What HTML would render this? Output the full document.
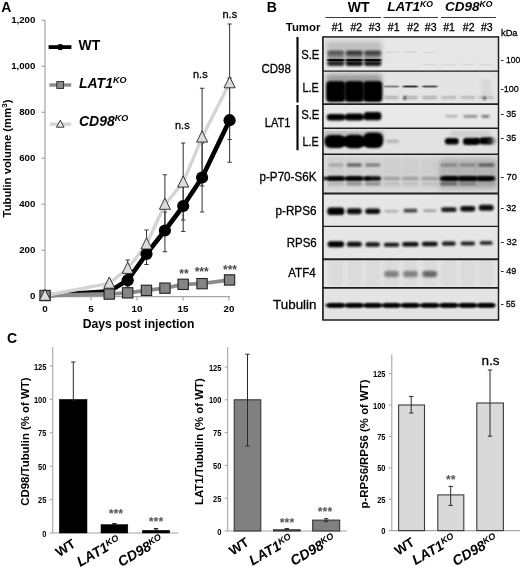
<!DOCTYPE html>
<html lang="en"><head><meta charset="utf-8"><title>Figure</title>
<style>html,body{margin:0;padding:0;background:#fff;}svg{display:block;}text{font-family:"Liberation Sans", sans-serif;}</style>
</head><body>
<svg width="520" height="567" viewBox="0 0 520 567">
<defs>
<filter id="b1" x="-20%" y="-50%" width="140%" height="200%"><feGaussianBlur stdDeviation="1.1 0.9"/></filter>
<filter id="b2" x="-20%" y="-50%" width="140%" height="200%"><feGaussianBlur stdDeviation="1.6 1.2"/></filter>
<filter id="b0" x="-20%" y="-80%" width="140%" height="260%"><feGaussianBlur stdDeviation="0.9 0.6"/></filter>
<filter id="b3" x="-20%" y="-50%" width="140%" height="200%"><feGaussianBlur stdDeviation="2.5 2"/></filter>
</defs>
<rect x="0" y="0" width="520" height="567" fill="#ffffff"/>
<text x="1.20" y="12.30" font-size="14" font-weight="bold" font-style="normal" text-anchor="start" fill="#000" >A</text>
<text x="266.80" y="12.00" font-size="14" font-weight="bold" font-style="normal" text-anchor="start" fill="#000" >B</text>
<text x="7.00" y="343.20" font-size="14" font-weight="bold" font-style="normal" text-anchor="start" fill="#000" >C</text>
<g stroke="#a6a6a6" stroke-width="1.2" fill="none">
<path d="M45.0 20 V296.7 H230"/>
<path d="M45.0 296.3 h-3.5"/>
<path d="M45.0 250.3 h-3.5"/>
<path d="M45.0 204.3 h-3.5"/>
<path d="M45.0 158.3 h-3.5"/>
<path d="M45.0 112.3 h-3.5"/>
<path d="M45.0 66.3 h-3.5"/>
<path d="M45.0 20.3 h-3.5"/>
<path d="M45.0 297.0 v3.5"/>
<path d="M91.0 297.0 v3.5"/>
<path d="M137.0 297.0 v3.5"/>
<path d="M183.0 297.0 v3.5"/>
<path d="M229.0 297.0 v3.5"/>
</g>
<text x="35.40" y="299.20" font-size="9.7" font-weight="bold" font-style="normal" text-anchor="end" fill="#000" >0</text>
<text x="35.40" y="253.20" font-size="9.7" font-weight="bold" font-style="normal" text-anchor="end" fill="#000" >200</text>
<text x="35.40" y="207.20" font-size="9.7" font-weight="bold" font-style="normal" text-anchor="end" fill="#000" >400</text>
<text x="35.40" y="161.20" font-size="9.7" font-weight="bold" font-style="normal" text-anchor="end" fill="#000" >600</text>
<text x="35.40" y="115.20" font-size="9.7" font-weight="bold" font-style="normal" text-anchor="end" fill="#000" >800</text>
<text x="35.40" y="69.20" font-size="9.7" font-weight="bold" font-style="normal" text-anchor="end" fill="#000" >1,000</text>
<text x="35.40" y="23.20" font-size="9.7" font-weight="bold" font-style="normal" text-anchor="end" fill="#000" >1,200</text>
<text x="45.00" y="311.90" font-size="9.8" font-weight="bold" font-style="normal" text-anchor="middle" fill="#000" >0</text>
<text x="91.00" y="311.90" font-size="9.8" font-weight="bold" font-style="normal" text-anchor="middle" fill="#000" >5</text>
<text x="137.00" y="311.90" font-size="9.8" font-weight="bold" font-style="normal" text-anchor="middle" fill="#000" >10</text>
<text x="183.00" y="311.90" font-size="9.8" font-weight="bold" font-style="normal" text-anchor="middle" fill="#000" >15</text>
<text x="229.00" y="311.90" font-size="9.8" font-weight="bold" font-style="normal" text-anchor="middle" fill="#000" >20</text>
<text x="138.50" y="328.40" font-size="12.2" font-weight="bold" font-style="normal" text-anchor="middle" fill="#000" >Days post injection</text>
<text transform="translate(11.2,158.5) rotate(-90)" font-size="11.3" font-weight="bold" text-anchor="middle">Tubulin volume (mm<tspan dy="-4.2" font-size="8">3</tspan><tspan dy="4.2">)</tspan></text>
<g stroke="#3a3a3a" stroke-width="1.05" fill="none">
<path d="M127.7 274.0 V287.0 M125.5 274.0 h4.4 M125.5 287.0 h4.4"/>
<path d="M146.5 243.0 V264.5 M144.3 243.0 h4.4 M144.3 264.5 h4.4"/>
<path d="M164.9 212.0 V251.8 M162.7 212.0 h4.4 M162.7 251.8 h4.4"/>
<path d="M183.2 183.0 V231.4 M181.0 183.0 h4.4 M181.0 231.4 h4.4"/>
<path d="M202.1 143.0 V212.0 M199.9 143.0 h4.4 M199.9 212.0 h4.4"/>
<path d="M229.6 78.0 V162.2 M227.4 78.0 h4.4 M227.4 162.2 h4.4"/>
<path d="M127.7 260.0 V277.0 M125.5 260.0 h4.4 M125.5 277.0 h4.4"/>
<path d="M146.5 230.0 V257.0 M144.3 230.0 h4.4 M144.3 257.0 h4.4"/>
<path d="M164.9 174.8 V233.0 M162.7 174.8 h4.4 M162.7 233.0 h4.4"/>
<path d="M183.2 143.0 V220.0 M181.0 143.0 h4.4 M181.0 220.0 h4.4"/>
<path d="M202.1 88.3 V186.0 M199.9 88.3 h4.4 M199.9 186.0 h4.4"/>
<path d="M229.6 24.0 V139.5 M227.4 24.0 h4.4 M227.4 139.5 h4.4"/>
</g>
<polyline points="45.0,295.5 109.3,291.4 127.7,280.2 146.5,254.0 164.9,230.5 183.2,206.0 202.1,177.5 229.6,120.2" fill="none" stroke="#000" stroke-width="4.6" stroke-linejoin="round"/>
<polyline points="45.0,295.5 109.3,294.0 127.7,292.8 146.5,290.3 164.9,288.1 183.2,284.4 202.1,283.6 229.6,279.9" fill="none" stroke="#8c8c8c" stroke-width="3.8" stroke-linejoin="round"/>
<polyline points="45.0,295.5 109.3,283.4 127.7,268.6 146.5,244.2 164.9,204.5 183.2,182.3 202.1,137.3 229.6,83.0" fill="none" stroke="#d4d4d4" stroke-width="3.4" stroke-linejoin="round"/>
<rect x="39.9" y="290.4" width="10.3" height="10.3" fill="#858585" stroke="#222" stroke-width="1.1"/>
<rect x="104.1" y="288.9" width="10.3" height="10.3" fill="#858585" stroke="#222" stroke-width="1.1"/>
<rect x="122.5" y="287.7" width="10.3" height="10.3" fill="#858585" stroke="#222" stroke-width="1.1"/>
<rect x="141.3" y="285.2" width="10.3" height="10.3" fill="#858585" stroke="#222" stroke-width="1.1"/>
<rect x="159.8" y="283.0" width="10.3" height="10.3" fill="#858585" stroke="#222" stroke-width="1.1"/>
<rect x="178.0" y="279.2" width="10.3" height="10.3" fill="#858585" stroke="#222" stroke-width="1.1"/>
<rect x="196.9" y="278.5" width="10.3" height="10.3" fill="#858585" stroke="#222" stroke-width="1.1"/>
<rect x="224.4" y="274.8" width="10.3" height="10.3" fill="#858585" stroke="#222" stroke-width="1.1"/>
<circle cx="127.7" cy="280.2" r="6.1" fill="#000"/>
<circle cx="146.5" cy="254.0" r="6.1" fill="#000"/>
<circle cx="164.9" cy="230.5" r="6.1" fill="#000"/>
<circle cx="183.2" cy="206.0" r="6.1" fill="#000"/>
<circle cx="202.1" cy="177.5" r="6.1" fill="#000"/>
<circle cx="229.6" cy="120.2" r="6.1" fill="#000"/>
<path d="M45.0 289.1 l5.5 11.2 h-11 z" fill="#dcdcdc" stroke="#222" stroke-width="0.9"/>
<path d="M109.3 277.0 l5.5 11.2 h-11 z" fill="#dcdcdc" stroke="#222" stroke-width="0.9"/>
<path d="M127.7 262.2 l5.5 11.2 h-11 z" fill="#dcdcdc" stroke="#222" stroke-width="0.9"/>
<path d="M146.5 237.8 l5.5 11.2 h-11 z" fill="#dcdcdc" stroke="#222" stroke-width="0.9"/>
<path d="M164.9 198.1 l5.5 11.2 h-11 z" fill="#dcdcdc" stroke="#222" stroke-width="0.9"/>
<path d="M183.2 175.9 l5.5 11.2 h-11 z" fill="#dcdcdc" stroke="#222" stroke-width="0.9"/>
<path d="M202.1 130.9 l5.5 11.2 h-11 z" fill="#dcdcdc" stroke="#222" stroke-width="0.9"/>
<path d="M229.6 76.6 l5.5 11.2 h-11 z" fill="#dcdcdc" stroke="#222" stroke-width="0.9"/>
<text x="229.80" y="17.50" font-size="11" font-weight="normal" font-style="normal" text-anchor="middle" fill="#000"  stroke="#000" stroke-width="0.3">n.s</text>
<text x="200.30" y="78.00" font-size="11" font-weight="normal" font-style="normal" text-anchor="middle" fill="#000"  stroke="#000" stroke-width="0.3">n.s</text>
<text x="182.30" y="129.00" font-size="11" font-weight="normal" font-style="normal" text-anchor="middle" fill="#000"  stroke="#000" stroke-width="0.3">n.s</text>
<text x="184.00" y="278.20" font-size="12" font-weight="bold" font-style="normal" text-anchor="middle" fill="#4a4a4a" >**</text>
<text x="201.70" y="276.30" font-size="12" font-weight="bold" font-style="normal" text-anchor="middle" fill="#4a4a4a" >***</text>
<text x="230.00" y="273.80" font-size="12" font-weight="bold" font-style="normal" text-anchor="middle" fill="#4a4a4a" >***</text>
<path d="M48.6 47.1 H71.4" stroke="#000" stroke-width="3.8"/>
<circle cx="60.3" cy="47.1" r="3.1" fill="#000"/>
<text x="78.60" y="49.90" font-size="14" font-weight="bold" font-style="normal" text-anchor="start" fill="#000" >WT</text>
<path d="M49.3 85 H71.2" stroke="#8c8c8c" stroke-width="3.4"/>
<rect x="56.8" y="81.6" width="6.8" height="6.8" fill="#8c8c8c" stroke="#222" stroke-width="0.9"/>
<text x="79" y="87.5" font-size="14" font-weight="bold" font-style="italic">LAT1<tspan dy="-5" font-size="9">KO</tspan></text>
<path d="M49.8 124.2 H71.2" stroke="#d4d4d4" stroke-width="3.4"/>
<path d="M60.3 120.2 l3.8 7 h-7.6 z" fill="#e6e6e6" stroke="#222" stroke-width="0.9"/>
<text x="79" y="126.2" font-size="14" font-weight="bold" font-style="italic">CD98<tspan dy="-5" font-size="9">KO</tspan></text>
<text x="358.70" y="11.60" font-size="14" font-weight="bold" font-style="normal" text-anchor="middle" fill="#000" >WT</text>
<text x="387.3" y="11.2" font-size="13.5" font-weight="bold" font-style="italic">LAT1<tspan dy="-4.5" font-size="8.6">KO</tspan></text>
<text x="445" y="11.2" font-size="13.5" font-weight="bold" font-style="italic">CD98<tspan dy="-4.5" font-size="8.6">KO</tspan></text>
<g stroke="#222" stroke-width="0.9"><path d="M325.5 17.5 H381"/><path d="M383.5 17.5 H438"/><path d="M441 17.5 H496"/></g>
<text x="285.80" y="30.60" font-size="11.4" font-weight="bold" font-style="normal" text-anchor="start" fill="#000" >Tumor</text>
<text x="337.50" y="30.60" font-size="10.5" font-weight="normal" font-style="normal" text-anchor="middle" fill="#000"  stroke="#000" stroke-width="0.3">#1</text>
<text x="356.30" y="30.60" font-size="10.5" font-weight="normal" font-style="normal" text-anchor="middle" fill="#000"  stroke="#000" stroke-width="0.3">#2</text>
<text x="374.70" y="30.60" font-size="10.5" font-weight="normal" font-style="normal" text-anchor="middle" fill="#000"  stroke="#000" stroke-width="0.3">#3</text>
<text x="393.70" y="30.60" font-size="10.5" font-weight="normal" font-style="normal" text-anchor="middle" fill="#000"  stroke="#000" stroke-width="0.3">#1</text>
<text x="413.20" y="30.60" font-size="10.5" font-weight="normal" font-style="normal" text-anchor="middle" fill="#000"  stroke="#000" stroke-width="0.3">#2</text>
<text x="430.70" y="30.60" font-size="10.5" font-weight="normal" font-style="normal" text-anchor="middle" fill="#000"  stroke="#000" stroke-width="0.3">#3</text>
<text x="449.00" y="30.60" font-size="10.5" font-weight="normal" font-style="normal" text-anchor="middle" fill="#000"  stroke="#000" stroke-width="0.3">#1</text>
<text x="468.70" y="30.60" font-size="10.5" font-weight="normal" font-style="normal" text-anchor="middle" fill="#000"  stroke="#000" stroke-width="0.3">#2</text>
<text x="486.80" y="30.60" font-size="10.5" font-weight="normal" font-style="normal" text-anchor="middle" fill="#000"  stroke="#000" stroke-width="0.3">#3</text>
<text x="501.00" y="35.50" font-size="9.3" font-weight="normal" font-style="normal" text-anchor="start" fill="#000"  stroke="#000" stroke-width="0.3">kDa</text>
<path d="M297.5 37 V102.4 M297.5 105.1 V150.2" stroke="#000" stroke-width="2.1"/>
<text x="261.50" y="72.60" font-size="12" font-weight="normal" font-style="normal" text-anchor="start" fill="#000" textLength="29.4" lengthAdjust="spacingAndGlyphs" stroke="#000" stroke-width="0.3">CD98</text>
<text x="301.20" y="59.40" font-size="12" font-weight="normal" font-style="normal" text-anchor="start" fill="#000" textLength="18.2" lengthAdjust="spacingAndGlyphs" stroke="#000" stroke-width="0.3">S.E</text>
<text x="302.40" y="91.80" font-size="12" font-weight="normal" font-style="normal" text-anchor="start" fill="#000" textLength="16.3" lengthAdjust="spacingAndGlyphs" stroke="#000" stroke-width="0.3">L.E</text>
<text x="264.70" y="127.30" font-size="12" font-weight="normal" font-style="normal" text-anchor="start" fill="#000" textLength="25.8" lengthAdjust="spacingAndGlyphs" stroke="#000" stroke-width="0.3">LAT1</text>
<text x="301.20" y="119.00" font-size="12" font-weight="normal" font-style="normal" text-anchor="start" fill="#000" textLength="18.2" lengthAdjust="spacingAndGlyphs" stroke="#000" stroke-width="0.3">S.E</text>
<text x="302.40" y="145.50" font-size="12" font-weight="normal" font-style="normal" text-anchor="start" fill="#000" textLength="16.3" lengthAdjust="spacingAndGlyphs" stroke="#000" stroke-width="0.3">L.E</text>
<text x="316.50" y="181.40" font-size="12" font-weight="normal" font-style="normal" text-anchor="end" fill="#000" textLength="57.0" lengthAdjust="spacingAndGlyphs" stroke="#000" stroke-width="0.3">p-P70-S6K</text>
<text x="316.50" y="215.30" font-size="12" font-weight="normal" font-style="normal" text-anchor="end" fill="#000" textLength="41.0" lengthAdjust="spacingAndGlyphs" stroke="#000" stroke-width="0.3">p-RPS6</text>
<text x="316.70" y="247.10" font-size="12" font-weight="normal" font-style="normal" text-anchor="end" fill="#000" textLength="30.0" lengthAdjust="spacingAndGlyphs" stroke="#000" stroke-width="0.3">RPS6</text>
<text x="315.60" y="276.80" font-size="12" font-weight="normal" font-style="normal" text-anchor="end" fill="#000" textLength="27.3" lengthAdjust="spacingAndGlyphs" stroke="#000" stroke-width="0.3">ATF4</text>
<text x="316.50" y="309.00" font-size="13.5" font-weight="normal" font-style="normal" text-anchor="end" fill="#000" textLength="43.4" lengthAdjust="spacingAndGlyphs" stroke="#000" stroke-width="0.3">Tubulin</text>
<text x="500.80" y="62.50" font-size="9.8" font-weight="normal" font-style="normal" text-anchor="start" fill="#000" textLength="19.4" lengthAdjust="spacingAndGlyphs" stroke="#000" stroke-width="0.3">- 100</text>
<text x="500.80" y="91.90" font-size="9.8" font-weight="normal" font-style="normal" text-anchor="start" fill="#000" textLength="17.9" lengthAdjust="spacingAndGlyphs" stroke="#000" stroke-width="0.3">-100</text>
<text x="500.80" y="116.70" font-size="9.8" font-weight="normal" font-style="normal" text-anchor="start" fill="#000" textLength="15.4" lengthAdjust="spacingAndGlyphs" stroke="#000" stroke-width="0.3">- 35</text>
<text x="500.80" y="140.70" font-size="9.8" font-weight="normal" font-style="normal" text-anchor="start" fill="#000" textLength="15.4" lengthAdjust="spacingAndGlyphs" stroke="#000" stroke-width="0.3">- 35</text>
<text x="500.80" y="179.60" font-size="9.8" font-weight="normal" font-style="normal" text-anchor="start" fill="#000" textLength="16.0" lengthAdjust="spacingAndGlyphs" stroke="#000" stroke-width="0.3">- 70</text>
<text x="500.80" y="210.50" font-size="9.8" font-weight="normal" font-style="normal" text-anchor="start" fill="#000" textLength="15.6" lengthAdjust="spacingAndGlyphs" stroke="#000" stroke-width="0.3">- 32</text>
<text x="500.80" y="244.60" font-size="9.8" font-weight="normal" font-style="normal" text-anchor="start" fill="#000" textLength="16.0" lengthAdjust="spacingAndGlyphs" stroke="#000" stroke-width="0.3">- 32</text>
<text x="500.80" y="273.60" font-size="9.8" font-weight="normal" font-style="normal" text-anchor="start" fill="#000" textLength="15.4" lengthAdjust="spacingAndGlyphs" stroke="#000" stroke-width="0.3">- 49</text>
<text x="500.80" y="307.20" font-size="9.8" font-weight="normal" font-style="normal" text-anchor="start" fill="#000" textLength="14.6" lengthAdjust="spacingAndGlyphs" stroke="#000" stroke-width="0.3">- 55</text>
<clipPath id="cp0"><rect x="323.0" y="36.9" width="175.5" height="34.2"/></clipPath>
<clipPath id="cp1"><rect x="323.0" y="71.1" width="175.5" height="33.0"/></clipPath>
<clipPath id="cp2"><rect x="323.0" y="104.1" width="175.5" height="24.1"/></clipPath>
<clipPath id="cp3"><rect x="323.0" y="128.2" width="175.5" height="26.1"/></clipPath>
<clipPath id="cp4"><rect x="323.0" y="154.3" width="175.5" height="39.2"/></clipPath>
<clipPath id="cp5"><rect x="323.0" y="193.5" width="175.5" height="32.9"/></clipPath>
<clipPath id="cp6"><rect x="323.0" y="226.4" width="175.5" height="32.8"/></clipPath>
<clipPath id="cp7"><rect x="323.0" y="259.2" width="175.5" height="28.7"/></clipPath>
<clipPath id="cp8"><rect x="323.0" y="287.9" width="175.5" height="32.1"/></clipPath>
<rect x="323.0" y="36.9" width="175.5" height="34.2" fill="#e7e7e7"/>
<g clip-path="url(#cp0)">
<rect x="326.0" y="41.0" width="56.0" height="11.0" rx="3.0" fill="#888" opacity="0.4" filter="url(#b3)"/>
<rect x="327.1" y="50.0" width="17.5" height="15.0" rx="3.0" fill="#555" opacity="0.55" filter="url(#b2)"/>
<rect x="327.6" y="51.0" width="16.5" height="4.5" rx="2.2" fill="#333" opacity="0.55" filter="url(#b1)"/>
<rect x="327.3" y="59.1" width="17.0" height="2.2" rx="1.1" fill="#000" opacity="0.95" filter="url(#b0)"/>
<rect x="327.3" y="61.0" width="17.0" height="5.0" rx="2.5" fill="#111" opacity="0.8" filter="url(#b1)"/>
<rect x="345.6" y="50.0" width="17.5" height="15.0" rx="3.0" fill="#555" opacity="0.55" filter="url(#b2)"/>
<rect x="346.1" y="51.0" width="16.5" height="4.5" rx="2.2" fill="#333" opacity="0.9" filter="url(#b1)"/>
<rect x="345.8" y="59.1" width="17.0" height="2.2" rx="1.1" fill="#000" opacity="0.95" filter="url(#b0)"/>
<rect x="345.8" y="61.0" width="17.0" height="5.0" rx="2.5" fill="#111" opacity="0.95" filter="url(#b1)"/>
<rect x="363.9" y="50.0" width="17.5" height="15.0" rx="3.0" fill="#555" opacity="0.55" filter="url(#b2)"/>
<rect x="364.4" y="51.0" width="16.5" height="4.5" rx="2.2" fill="#333" opacity="0.8" filter="url(#b1)"/>
<rect x="364.2" y="59.1" width="17.0" height="2.2" rx="1.1" fill="#000" opacity="0.95" filter="url(#b0)"/>
<rect x="364.2" y="61.0" width="17.0" height="5.0" rx="2.5" fill="#111" opacity="0.9" filter="url(#b1)"/>
<rect x="384.5" y="51.7" width="14.0" height="1.2" rx="0.6" fill="#bbb" opacity="0.4" filter="url(#b0)"/>
<rect x="403.4" y="51.4" width="14.0" height="1.2" rx="0.6" fill="#aaa" opacity="0.45" filter="url(#b0)"/>
<rect x="423.3" y="51.9" width="13.0" height="1.2" rx="0.6" fill="#bbb" opacity="0.4" filter="url(#b0)"/>
<rect x="422.8" y="63.8" width="14.0" height="1.5" rx="0.8" fill="#ccc" opacity="0.5" filter="url(#b0)"/>
<rect x="441.8" y="63.8" width="14.0" height="1.5" rx="0.8" fill="#ccc" opacity="0.5" filter="url(#b0)"/>
<rect x="460.8" y="63.8" width="14.0" height="1.5" rx="0.8" fill="#ccc" opacity="0.5" filter="url(#b0)"/>
<rect x="479.2" y="63.8" width="14.0" height="1.5" rx="0.8" fill="#ccc" opacity="0.5" filter="url(#b0)"/>
</g>
<rect x="323.0" y="71.1" width="175.5" height="33.0" fill="#e4e4e4"/>
<g clip-path="url(#cp1)">
<rect x="326.0" y="74.0" width="56.0" height="9.0" rx="3.0" fill="#666" opacity="0.55" filter="url(#b3)"/>
<rect x="326.0" y="81.1" width="19.6" height="21.0" rx="4.0" fill="#000" opacity="1" filter="url(#b1)"/>
<rect x="344.5" y="81.1" width="19.6" height="21.0" rx="4.0" fill="#000" opacity="1" filter="url(#b1)"/>
<rect x="362.9" y="81.1" width="19.6" height="21.0" rx="4.0" fill="#000" opacity="1" filter="url(#b1)"/>
<rect x="384.0" y="85.4" width="15.0" height="2.0" rx="1.0" fill="#777" opacity="0.9" filter="url(#b0)"/>
<rect x="384.0" y="96.1" width="15.0" height="3.0" rx="1.5" fill="#999" opacity="0.7" filter="url(#b1)"/>
<rect x="402.9" y="85.4" width="15.0" height="2.0" rx="1.0" fill="#222" opacity="0.9" filter="url(#b0)"/>
<rect x="402.9" y="96.1" width="15.0" height="3.0" rx="1.5" fill="#999" opacity="0.7" filter="url(#b1)"/>
<rect x="422.3" y="85.4" width="15.0" height="2.0" rx="1.0" fill="#444" opacity="0.9" filter="url(#b0)"/>
<rect x="422.3" y="96.1" width="15.0" height="3.0" rx="1.5" fill="#999" opacity="0.7" filter="url(#b1)"/>
<rect x="403.3" y="96.0" width="3.0" height="4.0" rx="2.0" fill="#222" opacity="0.8" filter="url(#b1)"/>
<rect x="441.3" y="96.3" width="15.0" height="2.5" rx="1.2" fill="#999" opacity="0.7" filter="url(#b1)"/>
<rect x="460.3" y="96.3" width="15.0" height="2.5" rx="1.2" fill="#999" opacity="0.7" filter="url(#b1)"/>
<rect x="478.7" y="96.3" width="15.0" height="2.5" rx="1.2" fill="#999" opacity="0.7" filter="url(#b1)"/>
<rect x="482.8" y="96.0" width="3.5" height="4.0" rx="2.0" fill="#333" opacity="0.8" filter="url(#b1)"/>
<rect x="481.0" y="79.0" width="10.0" height="18.0" rx="3.0" fill="#ccc" opacity="0.5" filter="url(#b2)"/>
</g>
<rect x="323.0" y="104.1" width="175.5" height="24.1" fill="#e9e9e9"/>
<g clip-path="url(#cp2)">
<rect x="326.8" y="114.0" width="18.0" height="6.4" rx="3.0" fill="#000" opacity="1" filter="url(#b1)"/>
<rect x="345.3" y="113.6" width="18.0" height="6.8" rx="3.0" fill="#000" opacity="1" filter="url(#b1)"/>
<rect x="363.9" y="112.1" width="17.5" height="8.2" rx="3.0" fill="#000" opacity="1" filter="url(#b1)"/>
<rect x="342.0" y="115.5" width="6.0" height="3.5" rx="1.8" fill="#000" opacity="0.9" filter="url(#b1)"/>
<rect x="360.5" y="115.2" width="6.0" height="3.5" rx="1.8" fill="#000" opacity="0.9" filter="url(#b1)"/>
<rect x="445.5" y="115.0" width="12.0" height="2.6" rx="1.3" fill="#999" opacity="0.7" filter="url(#b1)"/>
<rect x="463.5" y="114.9" width="14.0" height="2.8" rx="1.4" fill="#777" opacity="0.8" filter="url(#b1)"/>
<rect x="481.5" y="114.9" width="8.0" height="2.8" rx="1.4" fill="#555" opacity="0.8" filter="url(#b1)"/>
</g>
<rect x="323.0" y="128.2" width="175.5" height="26.1" fill="#e2e2e2"/>
<g clip-path="url(#cp3)">
<rect x="324.0" y="131.0" width="60.0" height="10.0" rx="3.0" fill="#888" opacity="0.4" filter="url(#b2)"/>
<rect x="324.3" y="135.0" width="21.0" height="13.0" rx="6.0" fill="#000" opacity="1" filter="url(#b1)"/>
<rect x="344.3" y="134.8" width="20.0" height="13.5" rx="6.0" fill="#000" opacity="1" filter="url(#b1)"/>
<rect x="363.2" y="132.6" width="20.0" height="15.5" rx="6.0" fill="#000" opacity="1" filter="url(#b1)"/>
<rect x="329.0" y="137.0" width="50.0" height="9.0" rx="3.0" fill="#000" opacity="1" filter="url(#b1)"/>
<rect x="386.0" y="139.8" width="13.0" height="3.0" rx="1.5" fill="#999" opacity="0.7" filter="url(#b1)"/>
<rect x="444.8" y="138.0" width="14.0" height="6.6" rx="3.0" fill="#000" opacity="1" filter="url(#b1)"/>
<rect x="463.0" y="137.7" width="16.0" height="7.2" rx="3.0" fill="#000" opacity="1" filter="url(#b1)"/>
<rect x="479.7" y="137.0" width="13.0" height="7.6" rx="3.0" fill="#000" opacity="1" filter="url(#b1)"/>
<rect x="475.0" y="138.3" width="7.0" height="5.5" rx="2.8" fill="#000" opacity="0.95" filter="url(#b1)"/>
<rect x="488.0" y="137.5" width="8.0" height="7.0" rx="3.0" fill="#555" opacity="0.5" filter="url(#b2)"/>
<rect x="450.0" y="131.0" width="40.0" height="6.0" rx="3.0" fill="#bbb" opacity="0.5" filter="url(#b2)"/>
</g>
<rect x="323.0" y="154.3" width="175.5" height="39.2" fill="#dedede"/>
<g clip-path="url(#cp4)">
<rect x="323.0" y="153.8" width="175.5" height="39" fill="#d6d6d6" opacity="0.5"/>
<rect x="439.0" y="159.0" width="58.0" height="30.0" rx="3.0" fill="#8a8a8a" opacity="0.5" filter="url(#b3)"/>
<rect x="327.3" y="158.0" width="17.0" height="30.0" rx="3.0" fill="#bbb" opacity="0.35" filter="url(#b2)"/>
<rect x="328.3" y="163.6" width="15.0" height="2.8" rx="1.4" fill="#999" opacity="0.85" filter="url(#b1)"/>
<rect x="327.3" y="176.3" width="17.0" height="4.4" rx="2.2" fill="#000" opacity="0.95" filter="url(#b1)"/>
<rect x="327.8" y="182.3" width="16.0" height="3.0" rx="1.5" fill="#aaa" opacity="0.8" filter="url(#b1)"/>
<rect x="345.8" y="158.0" width="17.0" height="30.0" rx="3.0" fill="#bbb" opacity="0.35" filter="url(#b2)"/>
<rect x="346.8" y="163.6" width="15.0" height="2.8" rx="1.4" fill="#444" opacity="0.85" filter="url(#b1)"/>
<rect x="345.8" y="176.3" width="17.0" height="4.4" rx="2.2" fill="#000" opacity="0.95" filter="url(#b1)"/>
<rect x="346.3" y="182.3" width="16.0" height="3.0" rx="1.5" fill="#777" opacity="0.8" filter="url(#b1)"/>
<rect x="364.2" y="158.0" width="17.0" height="30.0" rx="3.0" fill="#bbb" opacity="0.35" filter="url(#b2)"/>
<rect x="365.2" y="163.6" width="15.0" height="2.8" rx="1.4" fill="#666" opacity="0.85" filter="url(#b1)"/>
<rect x="364.2" y="176.3" width="17.0" height="4.4" rx="2.2" fill="#000" opacity="0.95" filter="url(#b1)"/>
<rect x="364.7" y="182.3" width="16.0" height="3.0" rx="1.5" fill="#777" opacity="0.8" filter="url(#b1)"/>
<rect x="383.0" y="158.0" width="17.0" height="30.0" rx="3.0" fill="#bbb" opacity="0.35" filter="url(#b2)"/>
<rect x="384.0" y="163.6" width="15.0" height="2.8" rx="1.4" fill="#ccc" opacity="0.85" filter="url(#b1)"/>
<rect x="383.0" y="177.1" width="17.0" height="2.8" rx="1.4" fill="#999" opacity="0.95" filter="url(#b1)"/>
<rect x="383.5" y="182.3" width="16.0" height="3.0" rx="1.5" fill="#bbb" opacity="0.8" filter="url(#b1)"/>
<rect x="401.9" y="158.0" width="17.0" height="30.0" rx="3.0" fill="#bbb" opacity="0.35" filter="url(#b2)"/>
<rect x="402.9" y="163.6" width="15.0" height="2.8" rx="1.4" fill="#ccc" opacity="0.85" filter="url(#b1)"/>
<rect x="401.9" y="177.1" width="17.0" height="2.8" rx="1.4" fill="#999" opacity="0.95" filter="url(#b1)"/>
<rect x="402.4" y="182.3" width="16.0" height="3.0" rx="1.5" fill="#bbb" opacity="0.8" filter="url(#b1)"/>
<rect x="421.3" y="158.0" width="17.0" height="30.0" rx="3.0" fill="#bbb" opacity="0.35" filter="url(#b2)"/>
<rect x="422.3" y="163.6" width="15.0" height="2.8" rx="1.4" fill="#ccc" opacity="0.85" filter="url(#b1)"/>
<rect x="421.3" y="177.1" width="17.0" height="2.8" rx="1.4" fill="#999" opacity="0.95" filter="url(#b1)"/>
<rect x="421.8" y="182.3" width="16.0" height="3.0" rx="1.5" fill="#bbb" opacity="0.8" filter="url(#b1)"/>
<rect x="440.3" y="158.0" width="17.0" height="30.0" rx="3.0" fill="#bbb" opacity="0.35" filter="url(#b2)"/>
<rect x="440.6" y="163.6" width="16.4" height="2.8" rx="1.4" fill="#777" opacity="0.85" filter="url(#b1)"/>
<rect x="439.6" y="176.3" width="18.4" height="4.4" rx="2.2" fill="#000" opacity="0.95" filter="url(#b1)"/>
<rect x="440.1" y="182.3" width="17.4" height="3.0" rx="1.5" fill="#444" opacity="0.8" filter="url(#b1)"/>
<rect x="459.3" y="158.0" width="17.0" height="30.0" rx="3.0" fill="#bbb" opacity="0.35" filter="url(#b2)"/>
<rect x="459.6" y="163.6" width="16.4" height="2.8" rx="1.4" fill="#777" opacity="0.85" filter="url(#b1)"/>
<rect x="458.6" y="176.3" width="18.4" height="4.4" rx="2.2" fill="#000" opacity="0.95" filter="url(#b1)"/>
<rect x="459.1" y="182.3" width="17.4" height="3.0" rx="1.5" fill="#666" opacity="0.8" filter="url(#b1)"/>
<rect x="477.7" y="158.0" width="17.0" height="30.0" rx="3.0" fill="#bbb" opacity="0.35" filter="url(#b2)"/>
<rect x="478.0" y="163.6" width="16.4" height="2.8" rx="1.4" fill="#444" opacity="0.85" filter="url(#b1)"/>
<rect x="477.0" y="176.3" width="18.4" height="4.4" rx="2.2" fill="#000" opacity="0.95" filter="url(#b1)"/>
<rect x="477.5" y="182.3" width="17.4" height="3.0" rx="1.5" fill="#999" opacity="0.8" filter="url(#b1)"/>
<rect x="442.5" y="176.8" width="50.0" height="3.6" rx="1.8" fill="#000" opacity="0.95" filter="url(#b1)"/>
<rect x="320.0" y="176.9" width="50.0" height="3.0" rx="1.5" fill="#000" opacity="0.9" filter="url(#b1)"/>
</g>
<rect x="323.0" y="193.5" width="175.5" height="32.9" fill="#e6e6e6"/>
<g clip-path="url(#cp5)">
<rect x="327.3" y="207.5" width="17.0" height="7.6" rx="3.0" fill="#000" opacity="1" filter="url(#b1)"/>
<rect x="346.8" y="208.2" width="15.0" height="6.0" rx="3.0" fill="#0a0a0a" opacity="1" filter="url(#b1)"/>
<rect x="365.2" y="208.5" width="15.0" height="5.4" rx="2.7" fill="#111" opacity="1" filter="url(#b1)"/>
<rect x="384.5" y="210.0" width="14.0" height="2.6" rx="1.3" fill="#aaa" opacity="1" filter="url(#b1)"/>
<rect x="403.4" y="208.8" width="14.0" height="3.8" rx="1.9" fill="#444" opacity="1" filter="url(#b1)"/>
<rect x="423.3" y="209.5" width="13.0" height="2.6" rx="1.3" fill="#999" opacity="1" filter="url(#b1)"/>
<rect x="441.1" y="207.3" width="15.5" height="4.8" rx="2.4" fill="#1a1a1a" opacity="1" filter="url(#b1)"/>
<rect x="460.3" y="206.1" width="15.0" height="5.4" rx="2.7" fill="#0a0a0a" opacity="1" filter="url(#b1)"/>
<rect x="478.7" y="204.8" width="15.0" height="6.0" rx="3.0" fill="#0a0a0a" opacity="1" filter="url(#b1)"/>
</g>
<rect x="323.0" y="226.4" width="175.5" height="32.8" fill="#e6e6e6"/>
<g clip-path="url(#cp6)">
<rect x="327.6" y="241.3" width="16.5" height="6.0" rx="3.0" fill="#000" opacity="1" filter="url(#b1)"/>
<rect x="346.8" y="241.8" width="15.0" height="5.0" rx="2.5" fill="#0c0c0c" opacity="1" filter="url(#b1)"/>
<rect x="365.4" y="242.3" width="14.5" height="4.4" rx="2.2" fill="#141414" opacity="1" filter="url(#b1)"/>
<rect x="383.8" y="242.8" width="15.5" height="4.0" rx="2.0" fill="#141414" opacity="1" filter="url(#b1)"/>
<rect x="402.1" y="242.0" width="16.5" height="4.6" rx="2.3" fill="#0c0c0c" opacity="1" filter="url(#b1)"/>
<rect x="421.8" y="241.7" width="16.0" height="4.6" rx="2.3" fill="#0c0c0c" opacity="1" filter="url(#b1)"/>
<rect x="441.8" y="241.5" width="14.0" height="4.2" rx="2.1" fill="#1a1a1a" opacity="1" filter="url(#b1)"/>
<rect x="460.6" y="241.4" width="14.5" height="4.0" rx="2.0" fill="#222" opacity="1" filter="url(#b1)"/>
<rect x="479.7" y="241.1" width="13.0" height="3.8" rx="1.9" fill="#333" opacity="1" filter="url(#b1)"/>
</g>
<rect x="323.0" y="259.2" width="175.5" height="28.7" fill="#e5e5e5"/>
<g clip-path="url(#cp7)">
<rect x="328.3" y="260.0" width="15.0" height="26.0" rx="3.0" fill="#bbb" opacity="0.22" filter="url(#b2)"/>
<rect x="346.8" y="260.0" width="15.0" height="26.0" rx="3.0" fill="#bbb" opacity="0.22" filter="url(#b2)"/>
<rect x="365.2" y="260.0" width="15.0" height="26.0" rx="3.0" fill="#bbb" opacity="0.22" filter="url(#b2)"/>
<rect x="384.0" y="260.0" width="15.0" height="26.0" rx="3.0" fill="#bbb" opacity="0.22" filter="url(#b2)"/>
<rect x="402.9" y="260.0" width="15.0" height="26.0" rx="3.0" fill="#bbb" opacity="0.22" filter="url(#b2)"/>
<rect x="422.3" y="260.0" width="15.0" height="26.0" rx="3.0" fill="#bbb" opacity="0.22" filter="url(#b2)"/>
<rect x="441.3" y="260.0" width="15.0" height="26.0" rx="3.0" fill="#bbb" opacity="0.22" filter="url(#b2)"/>
<rect x="460.3" y="260.0" width="15.0" height="26.0" rx="3.0" fill="#bbb" opacity="0.22" filter="url(#b2)"/>
<rect x="478.7" y="260.0" width="15.0" height="26.0" rx="3.0" fill="#bbb" opacity="0.22" filter="url(#b2)"/>
<rect x="384.0" y="270.5" width="15.0" height="7.0" rx="3.0" fill="#666" opacity="0.55" filter="url(#b2)"/>
<rect x="385.0" y="272.2" width="13.0" height="3.6" rx="1.8" fill="#666" opacity="0.6" filter="url(#b1)"/>
<rect x="402.9" y="270.5" width="15.0" height="7.0" rx="3.0" fill="#666" opacity="0.55" filter="url(#b2)"/>
<rect x="403.9" y="272.2" width="13.0" height="3.6" rx="1.8" fill="#666" opacity="0.6" filter="url(#b1)"/>
<rect x="422.3" y="270.5" width="15.0" height="7.0" rx="3.0" fill="#444" opacity="0.55" filter="url(#b2)"/>
<rect x="423.3" y="272.2" width="13.0" height="3.6" rx="1.8" fill="#444" opacity="0.6" filter="url(#b1)"/>
</g>
<rect x="323.0" y="287.9" width="175.5" height="32.1" fill="#e4e4e4"/>
<g clip-path="url(#cp8)">
<rect x="325.5" y="303.9" width="170.0" height="2.8" rx="1.4" fill="#000" opacity="1" filter="url(#b1)"/>
<rect x="327.6" y="303.2" width="16.5" height="4.3" rx="2.1" fill="#000" opacity="1" filter="url(#b1)"/>
<rect x="346.1" y="303.2" width="16.5" height="4.3" rx="2.1" fill="#000" opacity="1" filter="url(#b1)"/>
<rect x="364.4" y="303.2" width="16.5" height="4.3" rx="2.1" fill="#000" opacity="1" filter="url(#b1)"/>
<rect x="383.2" y="303.2" width="16.5" height="4.3" rx="2.1" fill="#000" opacity="1" filter="url(#b1)"/>
<rect x="402.1" y="303.2" width="16.5" height="4.3" rx="2.1" fill="#000" opacity="1" filter="url(#b1)"/>
<rect x="421.6" y="303.2" width="16.5" height="4.3" rx="2.1" fill="#000" opacity="1" filter="url(#b1)"/>
<rect x="440.6" y="303.2" width="16.5" height="4.3" rx="2.1" fill="#000" opacity="1" filter="url(#b1)"/>
<rect x="459.6" y="303.2" width="16.5" height="4.3" rx="2.1" fill="#000" opacity="1" filter="url(#b1)"/>
<rect x="477.9" y="303.2" width="16.5" height="4.3" rx="2.1" fill="#000" opacity="1" filter="url(#b1)"/>
</g>
<g stroke="#1e1e1e" fill="none">
<rect x="323.0" y="36.9" width="175.5" height="283.1" stroke-width="1.5"/>
<path d="M322.6 36.9 V320.0" stroke-width="0.8"/>
<path d="M323.0 71.1 H498.5" stroke-width="1.4"/>
<path d="M323.0 104.1 H498.5" stroke-width="1.9"/>
<path d="M323.0 128.2 H498.5" stroke-width="1.4"/>
<path d="M323.0 154.3 H498.5" stroke-width="1.4"/>
<path d="M323.0 193.5 H498.5" stroke-width="1.9"/>
<path d="M323.0 226.4 H498.5" stroke-width="1.4"/>
<path d="M323.0 259.2 H498.5" stroke-width="1.9"/>
<path d="M323.0 287.9 H498.5" stroke-width="1.9"/>
</g>
<g stroke="#a6a6a6" stroke-width="1.1" fill="none">
<path d="M52.7 347.0 V533.0 H178.5"/>
<path d="M52.7 533.0 h-3"/>
<path d="M52.7 499.6 h-3"/>
<path d="M52.7 466.2 h-3"/>
<path d="M52.7 432.8 h-3"/>
<path d="M52.7 399.4 h-3"/>
<path d="M52.7 366.0 h-3"/>
</g>
<text x="46.40" y="536.50" font-size="8.5" font-weight="bold" font-style="normal" text-anchor="end" fill="#000" textLength="4.2" lengthAdjust="spacingAndGlyphs">0</text>
<text x="46.40" y="503.10" font-size="8.5" font-weight="bold" font-style="normal" text-anchor="end" fill="#000" textLength="8.3" lengthAdjust="spacingAndGlyphs">25</text>
<text x="46.40" y="469.70" font-size="8.5" font-weight="bold" font-style="normal" text-anchor="end" fill="#000" textLength="8.3" lengthAdjust="spacingAndGlyphs">50</text>
<text x="46.40" y="436.30" font-size="8.5" font-weight="bold" font-style="normal" text-anchor="end" fill="#000" textLength="8.3" lengthAdjust="spacingAndGlyphs">75</text>
<text x="46.40" y="402.90" font-size="8.5" font-weight="bold" font-style="normal" text-anchor="end" fill="#000" textLength="12.5" lengthAdjust="spacingAndGlyphs">100</text>
<text x="46.40" y="369.50" font-size="8.5" font-weight="bold" font-style="normal" text-anchor="end" fill="#000" textLength="12.5" lengthAdjust="spacingAndGlyphs">125</text>
<text transform="translate(29.3,441.6) rotate(-90)" font-size="11.4" font-weight="bold" text-anchor="middle">CD98/Tubulin (% of WT)</text>
<rect x="59.3" y="399.4" width="27.7" height="133.6" fill="#000" stroke="#000" stroke-width="0.5"/>
<rect x="101.0" y="524.6" width="26.8" height="8.4" fill="#000" stroke="#000" stroke-width="0.5"/>
<rect x="142.5" y="530.3" width="27.2" height="2.7" fill="#000" stroke="#000" stroke-width="0.5"/>
<g stroke="#2a2a2a" stroke-width="1" fill="none">
<path d="M73.3 362.0 V400.0 M71.1 362.0 h4.4 M71.1 400.0 h4.4"/>
<path d="M114.4 523.5 V524.5 M112.2 523.5 h4.4 M112.2 524.5 h4.4"/>
<path d="M156.0 528.5 V530.0 M153.8 528.5 h4.4 M153.8 530.0 h4.4"/>
</g>
<g stroke="#a6a6a6" stroke-width="1.1" fill="none">
<path d="M227.7 347.3 V531.0 H347.0"/>
<path d="M227.7 531.0 h-3"/>
<path d="M227.7 498.2 h-3"/>
<path d="M227.7 465.4 h-3"/>
<path d="M227.7 432.6 h-3"/>
<path d="M227.7 399.8 h-3"/>
<path d="M227.7 367.0 h-3"/>
</g>
<text x="221.40" y="534.50" font-size="8.5" font-weight="bold" font-style="normal" text-anchor="end" fill="#000" textLength="4.2" lengthAdjust="spacingAndGlyphs">0</text>
<text x="221.40" y="501.70" font-size="8.5" font-weight="bold" font-style="normal" text-anchor="end" fill="#000" textLength="8.3" lengthAdjust="spacingAndGlyphs">25</text>
<text x="221.40" y="468.90" font-size="8.5" font-weight="bold" font-style="normal" text-anchor="end" fill="#000" textLength="8.3" lengthAdjust="spacingAndGlyphs">50</text>
<text x="221.40" y="436.10" font-size="8.5" font-weight="bold" font-style="normal" text-anchor="end" fill="#000" textLength="8.3" lengthAdjust="spacingAndGlyphs">75</text>
<text x="221.40" y="403.30" font-size="8.5" font-weight="bold" font-style="normal" text-anchor="end" fill="#000" textLength="12.5" lengthAdjust="spacingAndGlyphs">100</text>
<text x="221.40" y="370.50" font-size="8.5" font-weight="bold" font-style="normal" text-anchor="end" fill="#000" textLength="12.5" lengthAdjust="spacingAndGlyphs">125</text>
<text transform="translate(203.0,441.6) rotate(-90)" font-size="11.4" font-weight="bold" text-anchor="middle">LAT1/Tubulin (% of WT)</text>
<rect x="234.2" y="399.8" width="26.6" height="131.2" fill="#808080" stroke="#2a2a2a" stroke-width="1"/>
<rect x="273.5" y="529.8" width="26.7" height="1.2" fill="#808080" stroke="#2a2a2a" stroke-width="1"/>
<rect x="312.7" y="520.1" width="27.0" height="10.9" fill="#808080" stroke="#2a2a2a" stroke-width="1"/>
<g stroke="#2a2a2a" stroke-width="1" fill="none">
<path d="M247.5 354.2 V446.0 M245.3 354.2 h4.4 M245.3 446.0 h4.4"/>
<path d="M286.8 528.6 V529.4 M284.6 528.6 h4.4 M284.6 529.4 h4.4"/>
<path d="M326.2 518.7 V521.6 M324.0 518.7 h4.4 M324.0 521.6 h4.4"/>
</g>
<g stroke="#a6a6a6" stroke-width="1.1" fill="none">
<path d="M391.8 354.5 V530.6 H520.0"/>
<path d="M391.8 530.6 h-3"/>
<path d="M391.8 499.2 h-3"/>
<path d="M391.8 467.8 h-3"/>
<path d="M391.8 436.4 h-3"/>
<path d="M391.8 405.0 h-3"/>
<path d="M391.8 373.6 h-3"/>
</g>
<text x="385.50" y="534.10" font-size="8.5" font-weight="bold" font-style="normal" text-anchor="end" fill="#000" textLength="4.2" lengthAdjust="spacingAndGlyphs">0</text>
<text x="385.50" y="502.70" font-size="8.5" font-weight="bold" font-style="normal" text-anchor="end" fill="#000" textLength="8.3" lengthAdjust="spacingAndGlyphs">25</text>
<text x="385.50" y="471.30" font-size="8.5" font-weight="bold" font-style="normal" text-anchor="end" fill="#000" textLength="8.3" lengthAdjust="spacingAndGlyphs">50</text>
<text x="385.50" y="439.90" font-size="8.5" font-weight="bold" font-style="normal" text-anchor="end" fill="#000" textLength="8.3" lengthAdjust="spacingAndGlyphs">75</text>
<text x="385.50" y="408.50" font-size="8.5" font-weight="bold" font-style="normal" text-anchor="end" fill="#000" textLength="12.5" lengthAdjust="spacingAndGlyphs">100</text>
<text x="385.50" y="377.10" font-size="8.5" font-weight="bold" font-style="normal" text-anchor="end" fill="#000" textLength="12.5" lengthAdjust="spacingAndGlyphs">125</text>
<text transform="translate(368.0,444.0) rotate(-90)" font-size="11.4" font-weight="bold" text-anchor="middle">p-RPS6/RPS6 (% of WT)</text>
<rect x="398.6" y="405.0" width="25.9" height="125.6" fill="#d9d9d9" stroke="#3a3a3a" stroke-width="1.1"/>
<rect x="437.8" y="494.9" width="26.0" height="35.7" fill="#d9d9d9" stroke="#3a3a3a" stroke-width="1.1"/>
<rect x="476.8" y="403.0" width="26.6" height="127.6" fill="#d9d9d9" stroke="#3a3a3a" stroke-width="1.1"/>
<g stroke="#2a2a2a" stroke-width="1" fill="none">
<path d="M411.2 396.4 V413.0 M409.0 396.4 h4.4 M409.0 413.0 h4.4"/>
<path d="M450.7 486.4 V505.4 M448.5 486.4 h4.4 M448.5 505.4 h4.4"/>
<path d="M490.0 370.0 V436.2 M487.8 370.0 h4.4 M487.8 436.2 h4.4"/>
</g>
<text transform="translate(76.5,546.0) rotate(-33)" font-size="13.2" font-weight="bold" text-anchor="end">WT</text>
<text transform="translate(121.3,543.3) rotate(-30)" font-size="14" font-weight="bold" font-style="italic" text-anchor="end">LAT1<tspan dy="-4.2" font-size="9">KO</tspan></text>
<text transform="translate(164.0,542.3) rotate(-30)" font-size="14" font-weight="bold" font-style="italic" text-anchor="end">CD98<tspan dy="-4.2" font-size="9">KO</tspan></text>
<text transform="translate(250.0,544.5) rotate(-33)" font-size="13.2" font-weight="bold" text-anchor="end">WT</text>
<text transform="translate(293.7,541.9) rotate(-30)" font-size="14" font-weight="bold" font-style="italic" text-anchor="end">LAT1<tspan dy="-4.2" font-size="9">KO</tspan></text>
<text transform="translate(336.4,541.3) rotate(-30)" font-size="14" font-weight="bold" font-style="italic" text-anchor="end">CD98<tspan dy="-4.2" font-size="9">KO</tspan></text>
<text transform="translate(415.5,544.5) rotate(-33)" font-size="13.2" font-weight="bold" text-anchor="end">WT</text>
<text transform="translate(456.5,541.5) rotate(-30)" font-size="14" font-weight="bold" font-style="italic" text-anchor="end">LAT1<tspan dy="-4.2" font-size="9">KO</tspan></text>
<text transform="translate(498.5,541.5) rotate(-30)" font-size="14" font-weight="bold" font-style="italic" text-anchor="end">CD98<tspan dy="-4.2" font-size="9">KO</tspan></text>
<text x="115.90" y="517.70" font-size="12.3" font-weight="bold" font-style="normal" text-anchor="middle" fill="#555" >***</text>
<text x="156.00" y="525.90" font-size="12.3" font-weight="bold" font-style="normal" text-anchor="middle" fill="#555" >***</text>
<text x="287.00" y="526.50" font-size="12.3" font-weight="bold" font-style="normal" text-anchor="middle" fill="#555" >***</text>
<text x="325.00" y="516.40" font-size="12.3" font-weight="bold" font-style="normal" text-anchor="middle" fill="#555" >***</text>
<text x="450.70" y="483.70" font-size="12.3" font-weight="bold" font-style="normal" text-anchor="middle" fill="#555" >**</text>
<text x="490.50" y="364.60" font-size="13.5" font-weight="normal" font-style="normal" text-anchor="middle" fill="#000"  stroke="#000" stroke-width="0.3">n.s</text>
</svg>
</body></html>
